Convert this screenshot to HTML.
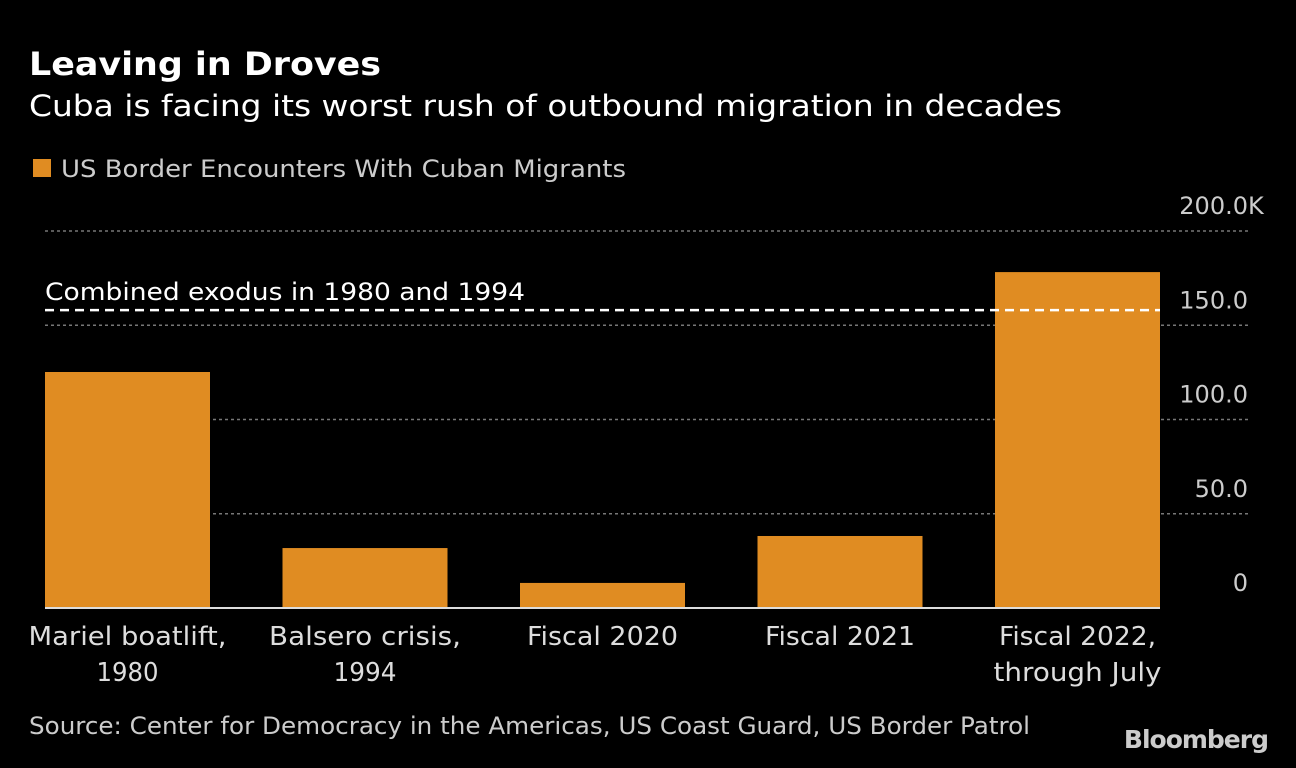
<!DOCTYPE html>
<html><head><meta charset="utf-8"><style>
body{margin:0;background:#000;width:1296px;height:764px;overflow:hidden;font-family:"DejaVu Sans","Liberation Sans",sans-serif;color:#fff}
svg text{font-family:"DejaVu Sans","Liberation Sans",sans-serif}
</style></head><body>
<svg width="1296" height="764" xmlns="http://www.w3.org/2000/svg">
<text x="29" y="75" font-size="32" font-weight="bold" fill="#fff" textLength="352" lengthAdjust="spacingAndGlyphs">Leaving in Droves</text>
<text x="29" y="116" font-size="29" fill="#fff" textLength="1033" lengthAdjust="spacingAndGlyphs">Cuba is facing its worst rush of outbound migration in decades</text>
<rect x="33" y="159" width="18" height="18" fill="#e08c22"/>
<text x="61" y="177" font-size="24" fill="#ccc" textLength="565" lengthAdjust="spacingAndGlyphs">US Border Encounters With Cuban Migrants</text>
<g id="grid"></g><g id="bars"></g><g id="labels"></g>
<text x="29" y="734" font-size="24" fill="#ccc" textLength="1001" lengthAdjust="spacingAndGlyphs">Source: Center for Democracy in the Americas, US Coast Guard, US Border Patrol</text>
<text x="1268" y="748" font-size="25" font-weight="bold" fill="#ccc" text-anchor="end" letter-spacing="-1">Bloomberg</text>
</svg>
<script>
const categories=[["Mariel boatlift,","1980"],["Balsero crisis,","1994"],["Fiscal 2020"],["Fiscal 2021"],["Fiscal 2022,","through July"]];
const labelWidths=[[198,62],[192,63],[151],[150],[157,168]];
const values=[125.2,31.8,13.3,38.2,178.2];
const ticks=[0,50,100,150,200];
const tickLabels=["0","50.0","100.0","150.0","200.0"];
const referenceValue=158;
const referenceLabel="Combined exodus in 1980 and 1994";
const NS="http://www.w3.org/2000/svg";
const y0=608,pxPer=377/200;
const y=v=>y0-v*pxPer;
const x=i=>45+i*237.5;
const bw=165;
function mk(t,a,p,txt){const e=document.createElementNS(NS,t);for(const k in a)e.setAttribute(k,a[k]);if(txt!==undefined)e.textContent=txt;p.appendChild(e);return e;}
const g=document.getElementById('grid'),b=document.getElementById('bars'),l=document.getElementById('labels');
ticks.forEach((t,i)=>{
 if(t>0){const ln=mk('line',{x1:45,x2:1248,y1:y(t),y2:y(t),stroke:'#777','stroke-width':1.5,'stroke-dasharray':'3,3'},g);
 
 }
 const tx=mk('text',{x:1248,y:y(t)-17,'font-size':24,fill:'#ccc','text-anchor':'end'},g,tickLabels[i]);
 
 
 if(i===ticks.length-1){
  const k=mk('text',{x:1248,y:y(t)-17,'font-size':24,fill:'#ccc'},g,'K');
  
  
 }
});
values.forEach((v,i)=>{
 const r=mk('rect',{x:x(i),y:y(v),width:bw,height:y0-y(v),fill:'#e08c22'},b);
 
 
 categories[i].forEach((s,j)=>{
  const t=mk('text',{x:x(i)+bw/2,y:645+j*36,'font-size':26,fill:'#ddd','text-anchor':'middle',textLength:labelWidths[i][j],lengthAdjust:'spacingAndGlyphs'},l,s);
  
  
 });
});
const base=mk('line',{x1:45,x2:1160,y1:y0,y2:y0,stroke:'#ddd','stroke-width':2},b);


const rl=mk('line',{x1:45,x2:1160,y1:y(referenceValue),y2:y(referenceValue),stroke:'#fff','stroke-width':2.5,'stroke-dasharray':'9,6'},l);


const rt=mk('text',{x:45,y:y(referenceValue)-10,'font-size':24,fill:'#fff',textLength:480,lengthAdjust:'spacingAndGlyphs'},l,referenceLabel);


</script>
</body></html>
